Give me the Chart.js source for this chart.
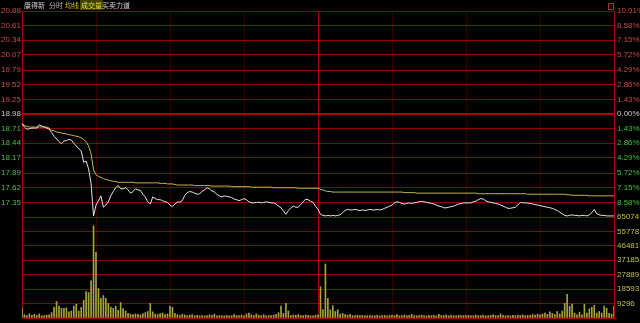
<!DOCTYPE html>
<html>
<head>
<meta charset="utf-8">
<script src="https://cdn.jsdelivr.net/npm/chart.js@4/dist/chart.umd.min.js"></script>
<style>
  html, body { margin: 0; padding: 0; background: #000; overflow: hidden; }
  #wrap { position: relative; width: 640px; height: 323px; overflow: hidden; }
  canvas { position: absolute; left: 0; }
  #priceChart { top: 0; }
  #volChart { top: 205px; }
  .hd { position: absolute; top: 0; font: 7px "Noto Sans CJK SC", sans-serif; line-height: 10px; white-space: nowrap; }
  #box { position: absolute; left: 608px; top: 3px; width: 4px; height: 5px; border: 1px solid #b03030; }
</style>
</head>
<body>
<div id="wrap">
  <canvas id="priceChart" width="640" height="230"></canvas>
  <canvas id="volChart" width="640" height="124"></canvas>
  <span class="hd" style="left:24px;color:#d0d0d0">康得新</span>
  <span class="hd" style="left:49px;color:#b8b8b8">分时</span>
  <span class="hd" style="left:65px;color:#c8c800">均线</span>
  <span class="hd" style="left:80px;color:#e0e040;background:#404000;padding:0 1px">成交量</span>
  <span class="hd" style="left:102px;color:#d0d0d0">买卖力道</span>
  <div id="box"></div>
</div>
<script>
// 分时数据 (每分钟)
const prevClose = 18.98;

const price = [
  18.80, 18.74, 18.70, 18.71, 18.72, 18.72, 18.72, 18.78, 18.76, 18.74,
  18.72, 18.70, 18.64, 18.57, 18.52, 18.47, 18.43, 18.48, 18.49, 18.51,
  18.50, 18.44, 18.39, 18.34, 18.30, 18.09, 18.11, 17.97, 17.70, 17.10,
  17.30, 17.38, 17.47, 17.26, 17.30, 17.36, 17.47, 17.55, 17.62, 17.66,
  17.60, 17.60, 17.62, 17.58, 17.52, 17.55, 17.60, 17.58, 17.57, 17.50,
  17.45, 17.36, 17.32, 17.45, 17.42, 17.40, 17.40, 17.38, 17.36, 17.35,
  17.30, 17.27, 17.32, 17.35, 17.36, 17.38, 17.48, 17.53, 17.55, 17.54,
  17.52, 17.50, 17.51, 17.55, 17.58, 17.62, 17.60, 17.56, 17.54, 17.50,
  17.47, 17.45, 17.47, 17.46, 17.45, 17.44, 17.41, 17.40, 17.38, 17.40,
  17.42, 17.40, 17.36, 17.34, 17.34, 17.35, 17.35, 17.34, 17.35, 17.36,
  17.35, 17.34, 17.34, 17.32, 17.28, 17.25, 17.19, 17.13, 17.20, 17.25,
  17.28, 17.26, 17.26, 17.31, 17.36, 17.41, 17.40, 17.37, 17.35, 17.28,
  17.22, 17.13, 17.11, 17.10, 17.11, 17.10, 17.11, 17.10, 17.11, 17.12,
  17.16, 17.20, 17.22, 17.21, 17.21, 17.22, 17.21, 17.20, 17.21, 17.20,
  17.21, 17.22, 17.21, 17.21, 17.22, 17.21, 17.22, 17.24, 17.26, 17.28,
  17.30, 17.34, 17.36, 17.35, 17.33, 17.32, 17.33, 17.34, 17.33, 17.34,
  17.35, 17.36, 17.37, 17.36, 17.35, 17.34, 17.33, 17.32, 17.30, 17.28,
  17.27, 17.25, 17.25, 17.26, 17.27, 17.28, 17.30, 17.32, 17.33, 17.34,
  17.34, 17.34, 17.34, 17.36, 17.37, 17.40, 17.42, 17.41, 17.38, 17.36,
  17.35, 17.34, 17.33, 17.32, 17.30, 17.28, 17.26, 17.24, 17.24, 17.25,
  17.26, 17.30, 17.35, 17.34, 17.34, 17.34, 17.33, 17.32, 17.31, 17.30,
  17.29, 17.28, 17.27, 17.26, 17.25, 17.24, 17.22, 17.20, 17.17, 17.14,
  17.11, 17.10, 17.11, 17.12, 17.11, 17.11, 17.10, 17.11, 17.11, 17.10,
  17.12, 17.16, 17.22, 17.14, 17.12, 17.11, 17.11, 17.10, 17.10, 17.10, 17.10
];

const avgPrice = [
  18.80, 18.77, 18.75, 18.74, 18.74, 18.74, 18.74, 18.74, 18.74, 18.74,
  18.74, 18.72, 18.68, 18.67, 18.65, 18.64, 18.63, 18.62, 18.61, 18.60,
  18.59, 18.58, 18.57, 18.56, 18.54, 18.51, 18.47, 18.39, 18.25, 17.95,
  17.86, 17.83, 17.81, 17.79, 17.77, 17.76, 17.75, 17.74, 17.73, 17.72,
  17.72, 17.72, 17.72, 17.72, 17.72, 17.72, 17.71, 17.71, 17.71, 17.71,
  17.71, 17.71, 17.71, 17.71, 17.71, 17.71, 17.70, 17.70, 17.70, 17.69,
  17.69, 17.69, 17.68, 17.67, 17.67, 17.67, 17.67, 17.67, 17.67, 17.67,
  17.66, 17.66, 17.66, 17.66, 17.66, 17.66, 17.66, 17.65, 17.65, 17.65,
  17.65, 17.65, 17.65, 17.65, 17.65, 17.64, 17.64, 17.64, 17.64, 17.64,
  17.64, 17.64, 17.64, 17.63, 17.63, 17.63, 17.63, 17.63, 17.63, 17.63,
  17.63, 17.63, 17.62, 17.62, 17.62, 17.62, 17.62, 17.62, 17.62, 17.62,
  17.62, 17.62, 17.61, 17.61, 17.61, 17.61, 17.61, 17.61, 17.61, 17.61,
  17.61, 17.59, 17.58, 17.56, 17.55, 17.55, 17.54, 17.54, 17.54, 17.54,
  17.54, 17.54, 17.54, 17.54, 17.54, 17.54, 17.54, 17.54, 17.54, 17.54,
  17.54, 17.54, 17.54, 17.54, 17.54, 17.54, 17.54, 17.54, 17.54, 17.54,
  17.54, 17.54, 17.54, 17.54, 17.54, 17.53, 17.53, 17.53, 17.53, 17.53,
  17.52, 17.52, 17.52, 17.52, 17.52, 17.52, 17.52, 17.52, 17.52, 17.52,
  17.52, 17.52, 17.52, 17.52, 17.52, 17.52, 17.52, 17.52, 17.52, 17.52,
  17.52, 17.52, 17.52, 17.52, 17.52, 17.51, 17.51, 17.51, 17.51, 17.51,
  17.51, 17.51, 17.51, 17.51, 17.51, 17.51, 17.51, 17.51, 17.51, 17.51,
  17.51, 17.51, 17.51, 17.51, 17.51, 17.50, 17.50, 17.50, 17.50, 17.50,
  17.50, 17.50, 17.50, 17.50, 17.50, 17.50, 17.50, 17.50, 17.50, 17.50,
  17.50, 17.49, 17.49, 17.48, 17.48, 17.48, 17.48, 17.48, 17.48, 17.48,
  17.47, 17.47, 17.47, 17.47, 17.47, 17.47, 17.47, 17.47, 17.47, 17.47, 17.47
];

const volume = [
  6500, 2200, 1500, 2800, 1800, 2400, 1600, 2600, 1400, 1500,
  1800, 2000, 3500, 6800, 10700, 7600, 6300, 6300, 6500, 4000,
  4500, 7600, 8900, 4500, 6800, 11400, 17000, 16400, 24000, 59400,
  42300, 19000, 12600, 14500, 12600, 9500, 7000, 6300, 7600, 5000,
  10000, 6000, 4500, 3000, 2500, 2200, 2600, 2400, 2000, 2800,
  3500, 4200, 9500, 4000, 2500, 2300, 2800, 3200, 2200, 2600,
  7600, 6900, 3000, 2200, 1600, 2400, 2000, 1500, 1800, 2200,
  1500, 1800, 1400, 1600, 1300, 1500, 2000, 1700, 2500, 1400,
  1600, 1500, 1300, 1700, 1400, 1500, 2200, 1600, 1500, 1800,
  1400, 2600, 3200, 2000, 1600, 2600, 1800, 1500, 2200, 1400,
  1600, 1500, 1800, 2400, 3400, 7600, 3000, 9500, 4500, 1600,
  2000, 1800, 2200, 1600, 1500, 2000, 1700, 1500, 1400, 1800,
  2000, 20200, 5500, 34800, 12600, 5300, 8000, 4200, 5300, 2500,
  3000, 2200, 1800, 2400, 1600, 1500, 1800, 1500, 1700, 1400,
  1500, 1600, 1400, 1500, 1800, 1300, 1500, 1700, 1400, 1600,
  1800, 1500, 2200, 1400, 1600, 1900, 1500, 1700, 2400, 1500,
  1400, 1600, 1800, 1500, 1300, 1700, 1500, 1800, 1400, 2400,
  1600, 1500, 2000, 1400, 1700, 1500, 1400, 1800, 1500, 1600,
  1500, 1700, 1400, 1500, 1900, 1600, 1500, 1800, 1400, 1500,
  1700, 2000, 1600, 1500, 2600, 1800, 1500, 1600, 1400, 1700,
  1500, 1800, 1600, 2000, 1500, 1700, 1800, 2200, 1900, 2500,
  2000, 2600, 3200, 2400, 4000, 3000, 2200, 4200, 2600, 4500,
  9500, 15200, 7600, 8900, 3200, 2000, 3800, 2000, 8900, 3200,
  6000, 6900, 8200, 3200, 4200, 3200, 7600, 6300, 3000, 2500, 7600
];

// 坐标刻度
const priceTicks = [20.88, 20.61, 20.34, 20.07, 19.79, 19.52, 19.25, 18.98,
  18.71, 18.44, 18.17, 17.89, 17.62, 17.35, 17.08];
const pctLabels = ['10.01%', '8.58%', '7.15%', '5.72%', '4.29%', '2.86%', '1.43%', '0.00%',
  '1.43%', '2.86%', '4.29%', '5.72%', '7.15%', '8.58%', ''];
const volTicks = [65074, 55778, 46481, 37185, 27889, 18593, 9296, 0];

// 时间轴 09:30-11:30, 13:01-15:00
const minutes = [];
for (let m = 9 * 60 + 30; m <= 11 * 60 + 30; m++) minutes.push(m);
for (let m = 13 * 60 + 1; m <= 15 * 60; m++) minutes.push(m);
const timeLabels = minutes.map(m => String(Math.floor(m / 60)).padStart(2, '0') + ':' + String(m % 60).padStart(2, '0'));

const tickFont = { family: 'Liberation Sans', size: 8 };
const RED_LINE = '#8c0000';
const BORDER = '#a80000';

function labelColor(i) {
  if (i < 7) return '#d04848';
  if (i === 7) return '#c8c8c8';
  return '#40c040';
}

function xAxis() {
  return {
    type: 'category',
    offset: false,
    afterFit: s => { s.height = 0; },
    ticks: { display: false, autoSkip: false },
    border: { display: true, color: BORDER },
    grid: {
      offset: false,
      drawTicks: false,
      color: ctx => {
        const i = ctx.index;
        if (i === 0 || i === 120 || i === 240) return BORDER;
        if (i % 30 === 0) return '#3a0000';
        return 'rgba(0,0,0,0)';
      }
    }
  };
}

Chart.defaults.animation = false;

new Chart(document.getElementById('priceChart'), {
  type: 'line',
  data: {
    labels: timeLabels,
    datasets: [
      { data: price, borderColor: '#e6e6e6', borderWidth: 1, pointRadius: 0, tension: 0, yAxisID: 'y' },
      { data: avgPrice, borderColor: '#c8b850', borderWidth: 1, pointRadius: 0, tension: 0, yAxisID: 'y' }
    ]
  },
  options: {
    responsive: false,
    layout: { padding: { top: 11, bottom: 13, left: 0, right: 0 } },
    plugins: { legend: { display: false }, tooltip: { enabled: false } },
    scales: {
      x: xAxis(),
      y: {
        position: 'left',
        min: 17.08, max: 20.88,
        afterBuildTicks: s => { s.ticks = priceTicks.map(v => ({ value: v })); },
        afterFit: s => { s.width = 22; },
        border: { color: BORDER },
        grid: {
          drawTicks: false,
          color: ctx => ctx.index === 7 ? '#b00000' : RED_LINE,
          lineWidth: ctx => ctx.index === 7 ? 2 : 1
        },
        ticks: {
          padding: 1,
          font: tickFont,
          color: ctx => labelColor(ctx.index),
          callback: (v, i) => i < priceTicks.length - 1 ? priceTicks[i].toFixed(2) : ''
        }
      },
      pct: {
        position: 'right',
        min: 17.08, max: 20.88,
        afterBuildTicks: s => { s.ticks = priceTicks.map(v => ({ value: v })); },
        afterFit: s => { s.width = 26; },
        border: { color: BORDER },
        grid: { drawOnChartArea: false, drawTicks: false },
        ticks: {
          padding: 3,
          font: tickFont,
          color: ctx => labelColor(ctx.index),
          callback: (v, i) => pctLabels[i]
        }
      }
    }
  }
});

new Chart(document.getElementById('volChart'), {
  type: 'bar',
  data: {
    labels: timeLabels,
    datasets: [
      { data: volume, backgroundColor: '#a4a43c', borderWidth: 0, barThickness: 1, yAxisID: 'y' }
    ]
  },
  options: {
    responsive: false,
    layout: { padding: { top: 12, bottom: 11, left: 0, right: 0 } },
    plugins: { legend: { display: false }, tooltip: { enabled: false } },
    scales: {
      x: xAxis(),
      yl: {
        position: 'left',
        min: 0, max: 65074,
        afterFit: s => { s.width = 22; },
        border: { color: BORDER },
        grid: { display: false },
        ticks: { display: false }
      },
      y: {
        position: 'right',
        min: 0, max: 65074,
        afterBuildTicks: s => { s.ticks = volTicks.map(v => ({ value: v })); },
        afterFit: s => { s.width = 26; },
        border: { color: BORDER },
        grid: { drawTicks: false, color: RED_LINE },
        ticks: {
          padding: 3,
          font: tickFont,
          color: '#c0c040',
          callback: (v, i) => volTicks[i] ? String(volTicks[i]) : ''
        }
      }
    }
  }
});
</script>
</body>
</html>
